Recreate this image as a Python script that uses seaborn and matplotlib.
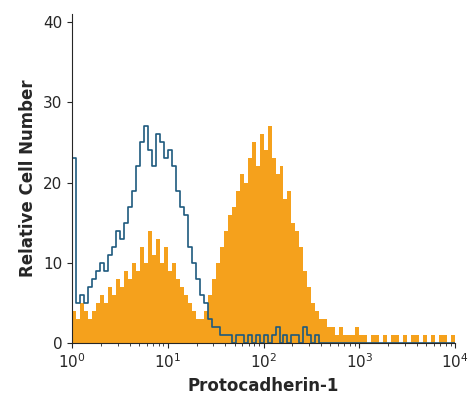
import numpy as np
import pandas as pd
import matplotlib
matplotlib.use("Agg")
import matplotlib.pyplot as plt
import seaborn as sns

bins_per_decade = 24
orange_counts = [4,3,5,4,3,4,5,6,5,7,6,8,7,9,8,10,9,12,10,14,11,13,10,12,
                 9,10,8,7,6,5,4,3,3,4,6,8,10,12,14,16,17,19,21,20,23,25,22,26,
                 24,27,23,21,22,18,19,15,14,12,9,7,5,4,3,3,2,2,1,2,1,1,1,2,
                 1,1,0,1,1,0,1,0,1,1,0,1,0,1,1,0,1,0,1,0,1,1,0,1]
blue_counts = [23,5,6,5,7,8,9,10,9,11,12,14,13,15,17,19,22,25,27,24,22,26,25,23,
               24,22,19,17,16,12,10,8,6,5,3,2,2,1,1,1,0,1,1,0,1,0,1,0,
               1,0,1,2,0,1,0,1,1,0,2,1,0,1,0,0,0,0,0,0,0,0,0,0,
               0] + [0]*23
x_label = "Protocadherin-1"
y_label = "Relative Cell Number"

n = len(orange_counts)
log_edges = list(np.arange(n + 1) / bins_per_decade)
centers = 10 ** ((np.arange(n) + 0.5) / bins_per_decade)
df = pd.DataFrame({"x": centers, "orange": orange_counts, "blue": blue_counts})

sns.set_style("ticks")
fig, ax = plt.subplots(figsize=(4.74, 4.08), dpi=100)
sns.histplot(data=df, x="x", weights="orange", bins=log_edges, log_scale=True,
             element="step", fill=True, color="#F5A11C", alpha=1, linewidth=0, ax=ax)
sns.histplot(data=df, x="x", weights="blue", bins=log_edges, log_scale=True,
             element="step", fill=False, color="#1E5A7E", linewidth=1.2, ax=ax)
ax.set_xlim(1, 1e4)
ax.set_ylim(0, 41)
ax.set_yticks([0, 10, 20, 30, 40])
ax.set_xticks([1, 10, 100, 1000, 10000])
ax.set_xticklabels([r"$10^0$", r"$10^1$", r"$10^2$", r"$10^3$", r"$10^4$"])
ax.set_xlabel(x_label, fontsize=12, fontweight="bold", family="Liberation Sans Narrow")
ax.set_ylabel(y_label, fontsize=12, fontweight="bold", family="Liberation Sans Narrow")
ax.tick_params(labelsize=11)
sns.despine(ax=ax)
fig.subplots_adjust(left=0.152, right=0.96, top=0.965, bottom=0.16)
fig.savefig("out.png", dpi=100)
